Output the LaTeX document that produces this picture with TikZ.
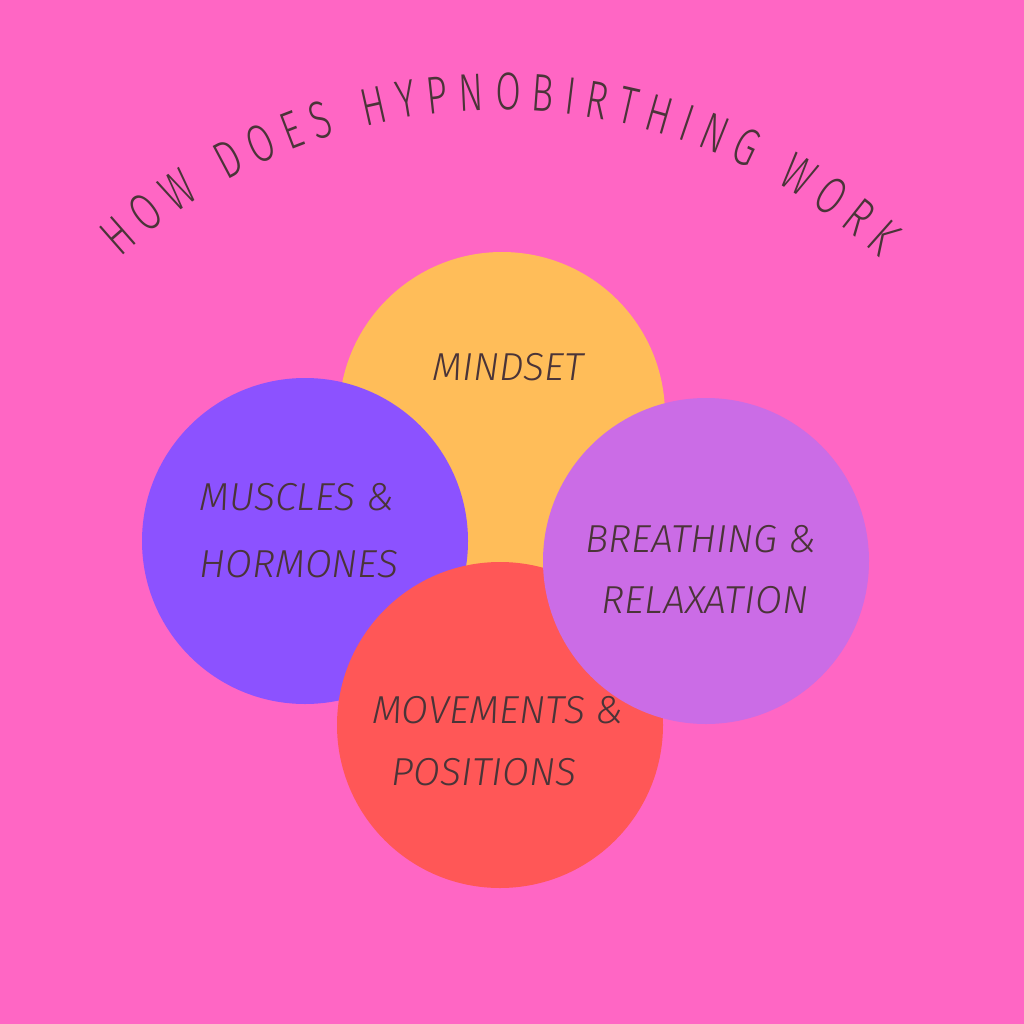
\documentclass[tikz,border=0pt]{standalone}
\usepackage{fontspec}
\setmainfont{Fira Sans Light}
\newfontfamily\titlefont{Fira Sans Light}[FakeStretch=0.7]
\usetikzlibrary{decorations.text}
\definecolor{bgpink}{HTML}{FF66C4}
\definecolor{cyellow}{HTML}{FFBD59}
\definecolor{cviolet}{HTML}{8C52FF}
\definecolor{cred}{HTML}{FF5757}
\definecolor{cpurple}{HTML}{CB6CE6}
\definecolor{ink}{HTML}{4A3438}
\tikzset{
  disc/.style={circle, minimum size=326pt, inner sep=0pt},
  lbl/.style={text=ink, font=\fontsize{39}{39}\selectfont\itshape, anchor=base, inner sep=0pt},
}
\begin{document}
\begin{tikzpicture}[x=1pt,y=1pt]
\fill[bgpink] (0,0) rectangle (1024,-1024);
\useasboundingbox (0,0) rectangle (1024,-1024);
% circles
\node[disc, fill=cyellow] (mind) at (502,-415) {};
\node[disc, fill=cviolet] (musc) at (305,-541) {};
\node[disc, fill=cred] (move) at (500,-725) {};
\node[disc, fill=cpurple] (breath) at (706,-561) {};
% labels
\node[lbl] (t1) at (508,-380) {MINDSET};
\node[lbl] (t2) at (297,-510) {MUSCLES \&};
\node[lbl] (t3) at (299,-577) {HORMONES};
\node[lbl] (t4) at (701,-552) {BREATHING \&};
\node[lbl] (t5) at (705,-613) {RELAXATION};
\node[lbl] (t6) at (498,-723) {MOVEMENTS \&};
\node[lbl] (t7) at (484,-785) {POSITIONS};
% title
\path[decorate, decoration={text along path, text align=fit to path,
  text={|\titlefont\fontsize{53}{53}\selectfont\color{ink}|HOW DOES HYPNOBIRTHING WORK}}]
  (500,-672) ++(132.5:562) arc (132.5:47.5:562);
\end{tikzpicture}
\end{document}
